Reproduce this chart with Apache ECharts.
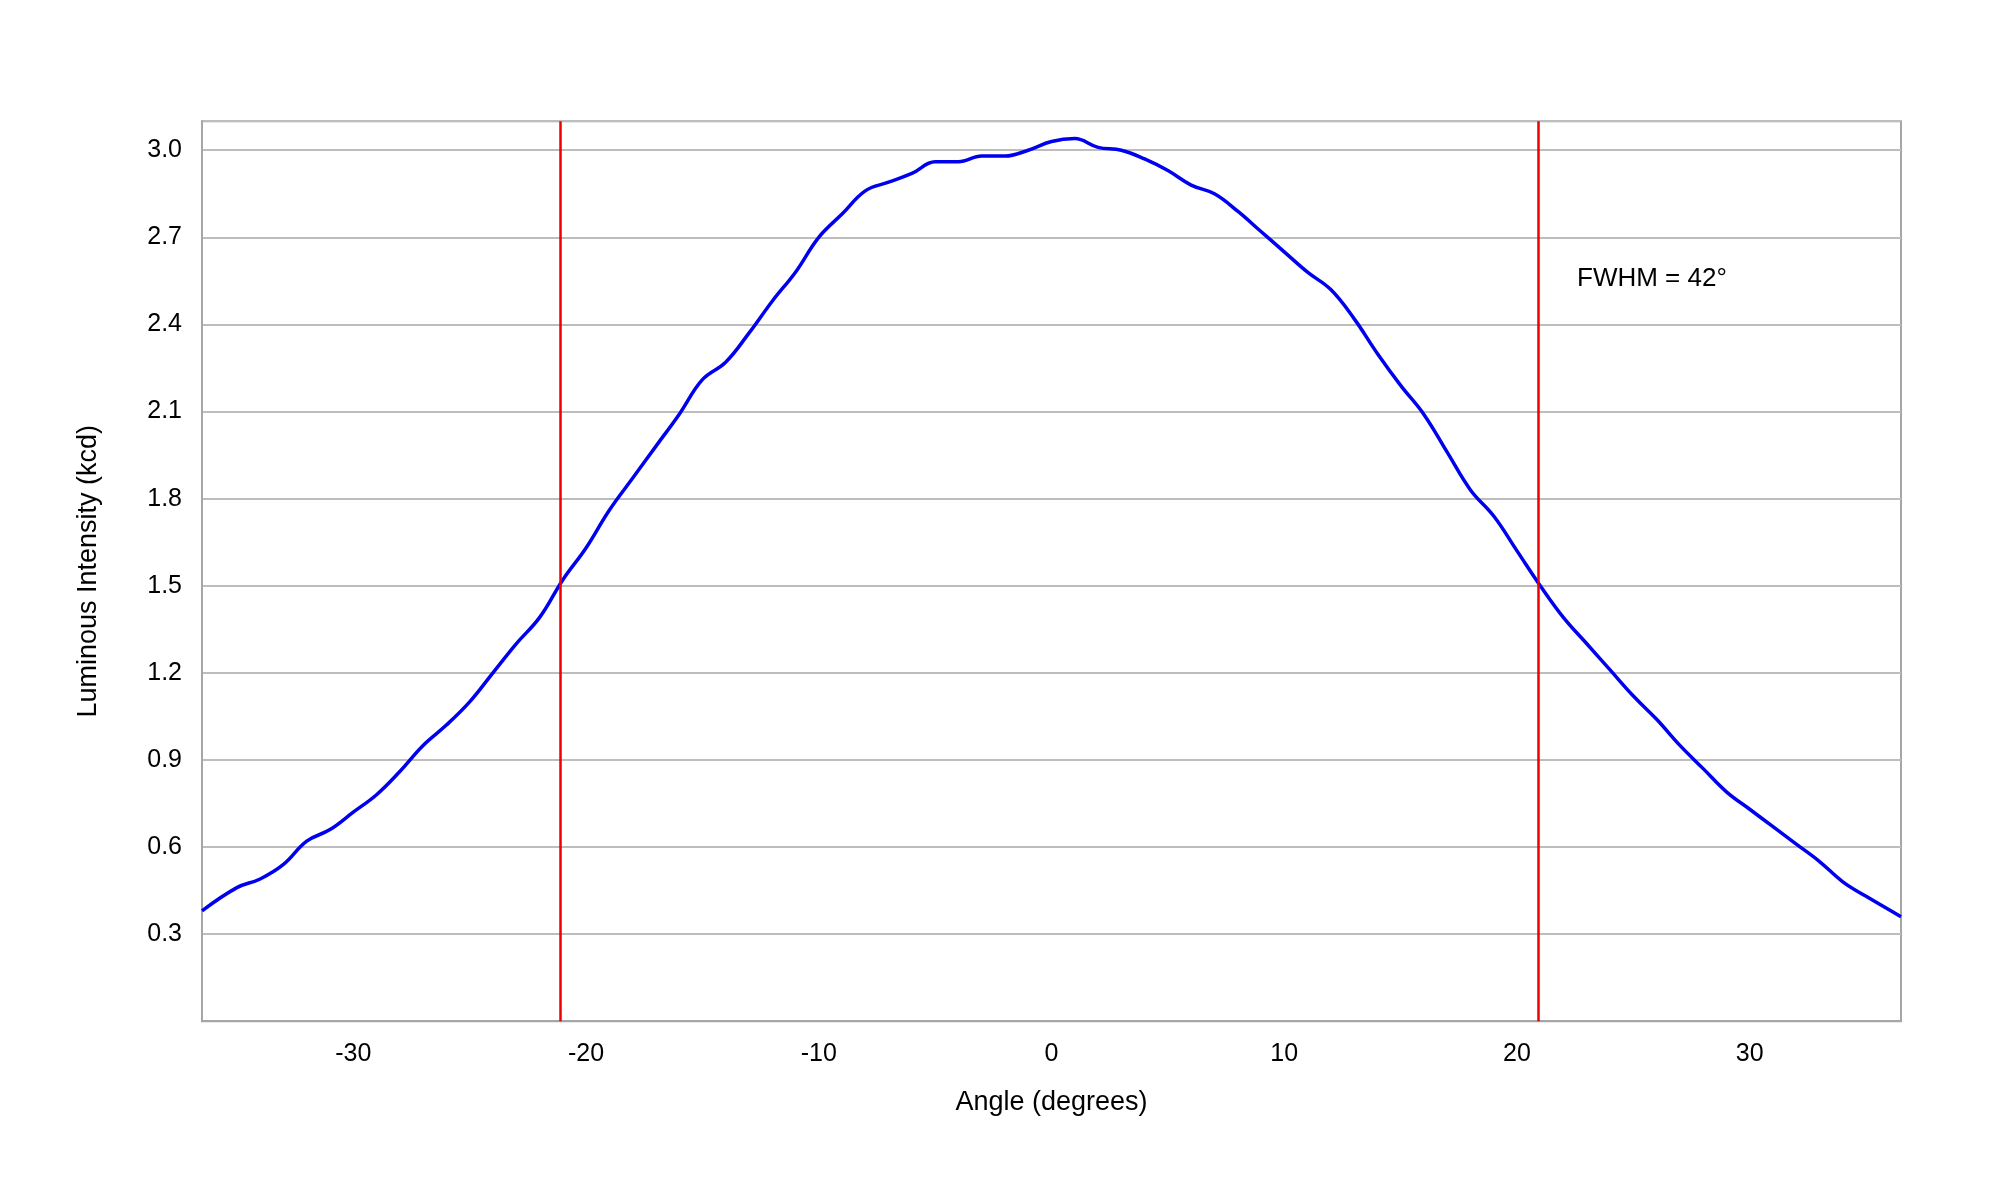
<!DOCTYPE html>
<html><head><meta charset="utf-8">
<script src="https://cdn.jsdelivr.net/npm/echarts@6/dist/echarts.min.js"></script>
<style>html,body{margin:0;padding:0;background:#fff}#c{width:2000px;height:1200px}</style>
</head><body><div id="c"></div>
<script>
const angles = [-36.5,-35,-34,-33,-32,-31,-30,-29,-28,-27,-26,-25,-24,-23,-22,-21,-20,-19,-18,-17,-16,-15,-14,-13,-12,-11,-10,-9,-8,-7,-6,-5,-4,-3,-2,-1,0,1,2,3,4,5,6,7,8,9,10,11,12,13,14,15,16,17,18,19,20,21,22,23,24,25,26,27,28,29,30,31,32,33,34,35,36.5];
const intensity = [0.38,0.46,0.49,0.54,0.62,0.66,0.72,0.78,0.86,0.95,1.02,1.10,1.20,1.30,1.39,1.52,1.63,1.76,1.87,1.98,2.09,2.21,2.27,2.37,2.48,2.58,2.70,2.78,2.86,2.89,2.92,2.96,2.96,2.98,2.98,3.00,3.03,3.04,3.01,3.00,2.97,2.93,2.88,2.85,2.79,2.72,2.65,2.58,2.52,2.42,2.30,2.19,2.09,1.96,1.83,1.74,1.62,1.50,1.39,1.30,1.21,1.12,1.04,0.95,0.87,0.79,0.73,0.67,0.61,0.55,0.48,0.43,0.36];
const fwhmLines = [-21.1, 20.9];
const xTicks = [-30,-20,-10,0,10,20,30];
const annotation = 'FWHM = 42°';
const font = 'Liberation Sans, Arial, sans-serif';
const chart = echarts.init(document.getElementById('c'));
chart.setOption({
  animation:false,
  grid:{left:'10.1%',right:'4.95%',top:'10.1%',bottom:'14.9%',show:true,borderColor:'#a6a6a6',borderWidth:2},
  xAxis:{type:'value',min:-36.5,max:36.5,
    name:'Angle (degrees)',nameLocation:'middle',nameGap:68,nameTextStyle:{fontFamily:font,fontSize:27,color:'#000'},
    axisLine:{onZero:false,lineStyle:{color:'#a6a6a6',width:2}},
    axisTick:{show:false},splitLine:{show:false},
    axisLabel:{customValues:xTicks,fontFamily:font,fontSize:25,color:'#000',margin:20}},
  yAxis:{type:'value',min:0,max:3.1,interval:0.3,
    name:'Luminous Intensity (kcd)',nameLocation:'middle',nameGap:100,nameTextStyle:{fontFamily:font,fontSize:27,color:'#000'},
    axisLine:{show:true,onZero:false,lineStyle:{color:'#a6a6a6',width:2}},axisTick:{show:false},
    splitLine:{lineStyle:{color:'#bdbdbd',width:2}},
    axisLabel:{fontFamily:font,fontSize:25,color:'#000',margin:20,showMaxLabel:false,
      formatter:v=> v===0 ? '' : v.toFixed(1)}},
  series:[{type:'line',data:angles.map((a,i)=>[a,intensity[i]]),smooth:0.4,symbol:'none',
    lineStyle:{color:'#0000ee',width:3.5},
    markLine:{silent:true,symbol:'none',label:{show:false},lineStyle:{color:'#ee0000',width:2.5,type:'solid'},
      data:fwhmLines.map(x=>({xAxis:x}))}}],
  graphic:[{type:'text',left:1577,top:266,style:{text:annotation,font:'26px '+font,fill:'#000'}}]
});
</script></body></html>
